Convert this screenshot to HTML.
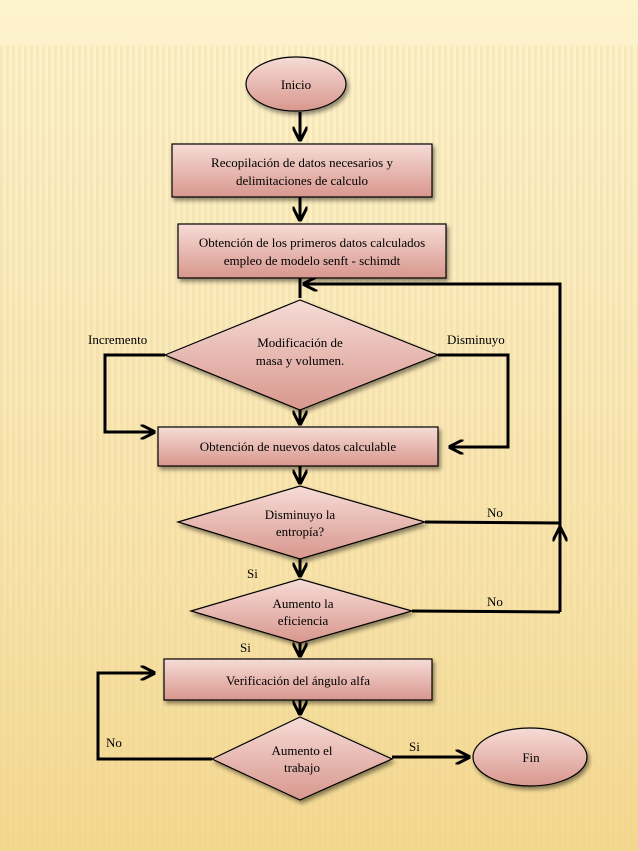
<!DOCTYPE html>
<html><head><meta charset="utf-8"><style>
html,body{margin:0;padding:0}
body{width:638px;height:851px;overflow:hidden;background:linear-gradient(180deg,#fdf3cd 0%,#fbecc0 30%,#f8e2a8 70%,#f4d88f 100%);font-family:"Liberation Serif",serif}
svg{position:absolute;left:0;top:0}
</style></head><body>
<svg width="638" height="851" viewBox="0 0 638 851">
<defs>
<pattern id="st" width="6" height="10" patternUnits="userSpaceOnUse"><rect width="3" height="10" fill="#e8d090" opacity="0.25"/></pattern>
<linearGradient id="g" x1="0" y1="0" x2="0" y2="1"><stop offset="0" stop-color="#f6dcd6"/><stop offset="1" stop-color="#d8978e"/></linearGradient>
<filter id="sh"><feDropShadow dx="2" dy="3" stdDeviation="2" flood-opacity="0.45"/></filter>
<marker id="a" viewBox="0 0 10 10" refX="9" refY="5" markerWidth="5" markerHeight="5" orient="auto"><path d="M0,0 L10,5 L0,10" fill="none" stroke="#000" stroke-width="2"/></marker>
</defs>
<rect x="0" y="45" width="638" height="806" fill="url(#st)"/>
<g stroke="#000" stroke-width="3" fill="none">
<line x1="300" y1="112" x2="300" y2="140" marker-end="url(#a)"/>
<line x1="300" y1="197" x2="300" y2="220" marker-end="url(#a)"/>
<line x1="300" y1="278" x2="300" y2="298"/>
<polyline points="560,612 560,284 304,284" marker-end="url(#a)"/>
<polyline points="425,522 560,523"/>
<line x1="560" y1="560" x2="560" y2="528" marker-end="url(#a)"/>
<line x1="412" y1="611" x2="560" y2="612"/>
<polyline points="165,355 105,355 105,432 154,432" marker-end="url(#a)"/>
<polyline points="438,355 508,355 508,447 450,447" marker-end="url(#a)"/>
<line x1="300" y1="410" x2="300" y2="424" marker-end="url(#a)"/>
<line x1="300" y1="466" x2="300" y2="483" marker-end="url(#a)"/>
<line x1="300" y1="559" x2="300" y2="576" marker-end="url(#a)"/>
<line x1="300" y1="643" x2="300" y2="656" marker-end="url(#a)"/>
<line x1="300" y1="700" x2="300" y2="714" marker-end="url(#a)"/>
<polyline points="212,759 98,759 98,673 154,673" marker-end="url(#a)"/>
<line x1="392" y1="757" x2="469" y2="757" marker-end="url(#a)"/>
</g>
<g fill="url(#g)" stroke="#000" stroke-width="1.2" filter="url(#sh)">
<ellipse cx="296" cy="84" rx="50" ry="27"/>
<rect x="172" y="144" width="260" height="53"/>
<rect x="178" y="224" width="268" height="54"/>
<polygon points="165,355 300,300 438,355 300,410"/>
<rect x="158" y="427" width="280" height="39"/>
<polygon points="178,522 300,486 425,522 300,559"/>
<polygon points="191,611 300,579 412,611 300,643"/>
<rect x="164" y="659" width="268" height="41"/>
<polygon points="212,759 300,717 392,759 300,800"/>
<ellipse cx="530" cy="757" rx="57" ry="29"/>
</g>
<g font-size="13" text-anchor="middle" fill="#000">
<text x="296" y="89">Inicio</text>
<text x="302" y="167">Recopilación de datos necesarios y</text>
<text x="302" y="185">delimitaciones de calculo</text>
<text x="312" y="247">Obtención de los primeros datos calculados</text>
<text x="312" y="265">empleo de modelo senft - schimdt</text>
<text x="300" y="347">Modificación de</text>
<text x="300" y="365">masa y volumen.</text>
<text x="298" y="451">Obtención de nuevos datos calculable</text>
<text x="300" y="519">Disminuyo la</text>
<text x="300" y="536">entropía?</text>
<text x="303" y="608">Aumento la</text>
<text x="303" y="625">eficiencia</text>
<text x="298" y="685">Verificación del ángulo alfa</text>
<text x="302" y="755">Aumento el</text>
<text x="302" y="772">trabajo</text>
<text x="531" y="762">Fin</text>
</g>
<g font-size="13" fill="#000">
<text x="88" y="344">Incremento</text>
<text x="447" y="344">Disminuyo</text>
<text x="487" y="517">No</text>
<text x="487" y="606">No</text>
<text x="247" y="578">Si</text>
<text x="240" y="652">Si</text>
<text x="106" y="747">No</text>
<text x="409" y="751">Si</text>
</g>
</svg>
</body></html>
